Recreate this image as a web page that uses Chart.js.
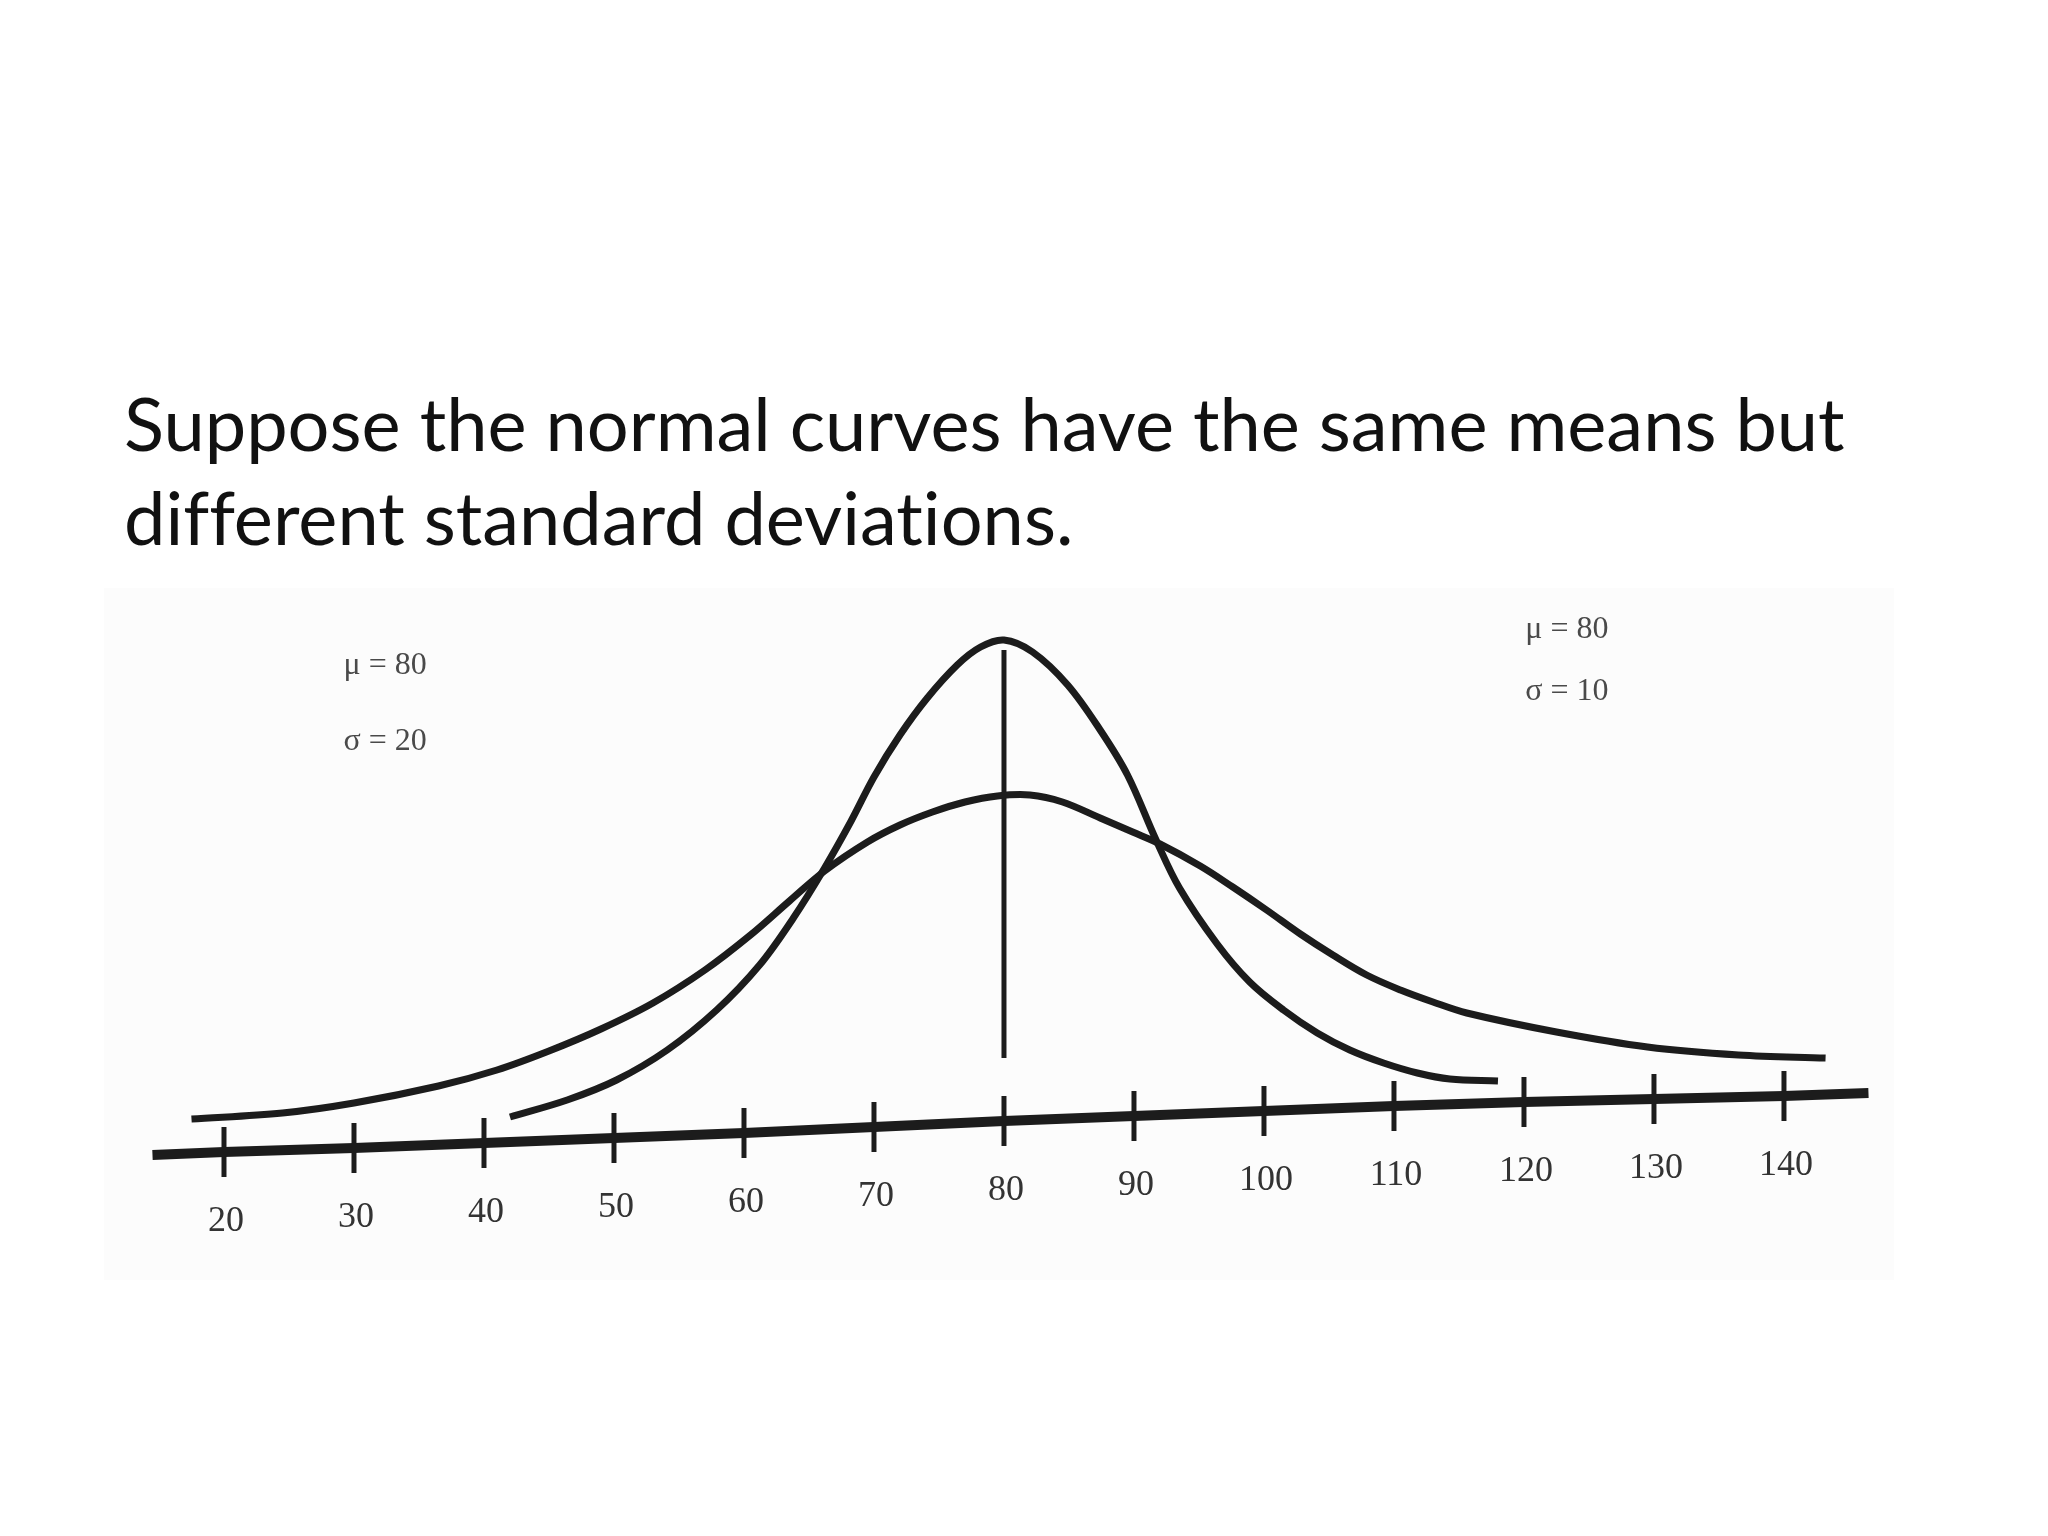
<!DOCTYPE html>
<html>
<head>
<meta charset="utf-8">
<script src="https://cdn.jsdelivr.net/npm/chart.js@4.4.1/dist/chart.umd.min.js"></script>
<style>
  html, body { margin: 0; padding: 0; background: #fff; }
  body { width: 2048px; height: 1536px; position: relative; overflow: hidden; }
  #caption {
    position: absolute; left: 124px; top: 376px;
    font-family: Lato, "Noto Sans", sans-serif; font-size: 74px; line-height: 94px;
    font-variant-ligatures: none;
    color: #111; white-space: nowrap;
  }
  #paper { position: absolute; left: 104px; top: 588px; width: 1790px; height: 692px; background: #fcfcfc; }
  #curveChart { position: absolute; left: 0; top: 560px; }
</style>
</head>
<body>
<div id="caption">Suppose the normal curves have the same means but<br>different standard deviations.</div>
<div id="paper"></div>
<canvas id="curveChart" width="2048" height="720"></canvas>
<script>
// values; x in score units, y = drawn height (arbitrary units)
const wideX = [17.5, 24.5, 30, 36.5, 41, 45, 49, 53, 57, 60.5, 63.5, 66.2, 69.5, 72, 74.5, 77, 79.5,
  82, 84.5, 87.4, 89.9, 92, 95.1, 97.6, 100.2, 102.8, 105.3, 107.9, 110.5, 113, 115.6, 122.5, 129.5, 136.5, 143.2];
const wideY = [1.61, 1.67, 1.77, 1.94, 2.10, 2.29, 2.51, 2.77, 3.10, 3.45, 3.79, 4.09, 4.38, 4.55, 4.68, 4.78, 4.84,
  4.85, 4.78, 4.62, 4.48, 4.36, 4.14, 3.93, 3.70, 3.46, 3.25, 3.05, 2.90, 2.78, 2.67, 2.48, 2.33, 2.25, 2.22];

const narrowX = [42, 46.4, 50.2, 54.1, 57.9, 61.2, 63.8, 66.2, 68.2, 70, 72, 74.1, 76.4, 78.2, 80,
  82.2, 84.9, 87.4, 89.5, 91.7, 93.5, 96.4, 98.9, 101.5, 104.1, 106.6, 109.2, 111.8, 114.3, 118];
const narrowY = [1.63, 1.80, 2.00, 2.30, 2.70, 3.15, 3.62, 4.12, 4.58, 5.03, 5.45, 5.82, 6.15, 6.33, 6.40,
  6.28, 5.95, 5.50, 5.05, 4.40, 3.92, 3.36, 2.98, 2.70, 2.47, 2.30, 2.17, 2.07, 2.01, 1.99];

const meanX = 80;
const meanLineY = [2.22, 6.30];

const tickValues = [20, 30, 40, 50, 60, 70, 80, 90, 100, 110, 120, 130, 140];
const tickLabels = ['20', '30', '40', '50', '60', '70', '80', '90', '100', '110', '120', '130', '140'];
// the printed baseline is tilted: its height under each tick
const baseY = [1.28, 1.32, 1.37, 1.42, 1.47, 1.53, 1.59, 1.64, 1.69, 1.74, 1.78, 1.81, 1.84];
const baseEndX = [14.5, 146.5];
const baseEndY = [1.25, 1.87];

const noteText = ['\u03BC = 80', '\u03C3 = 20', '\u03BC = 80', '\u03C3 = 10'];
const noteX = [32.4, 32.4, 123.3, 123.3];
const noteY = [6.14, 5.38, 6.50, 5.88];

const ink = '#1c1c1c';
const toPts = (xs, ys) => xs.map((x, i) => ({ x, y: ys[i] }));

const basePts = [{ x: baseEndX[0], y: baseEndY[0] }]
  .concat(toPts(tickValues, baseY))
  .concat([{ x: baseEndX[1], y: baseEndY[1] }]);

const textPlugin = {
  id: 'figureText',
  afterDatasetsDraw(chart) {
    const { ctx, scales: { x, y } } = chart;
    ctx.save();
    ctx.fillStyle = '#333';
    ctx.textAlign = 'center';
    ctx.textBaseline = 'middle';
    ctx.font = '36px "Liberation Serif", serif';
    tickValues.forEach((v, i) => {
      ctx.fillText(tickLabels[i], x.getPixelForValue(v) + 2, y.getPixelForValue(baseY[i]) + 70);
    });
    ctx.fillStyle = '#4a4a4a';
    ctx.font = '32px "Liberation Serif", serif';
    noteText.forEach((t, i) => {
      ctx.fillText(t, x.getPixelForValue(noteX[i]), y.getPixelForValue(noteY[i]));
    });
    ctx.restore();
  }
};

new Chart(document.getElementById('curveChart'), {
  type: 'scatter',
  data: {
    datasets: [
      {
        label: 'baseline',
        data: basePts,
        showLine: true,
        borderColor: ink,
        borderWidth: 10,
        pointRadius: 0,
        tension: 0
      },
      {
        label: 'ticks',
        data: toPts(tickValues, baseY),
        showLine: false,
        pointStyle: 'line',
        rotation: 90,
        pointRadius: 25,
        borderColor: ink,
        borderWidth: 5
      },
      {
        label: 'sigma 20',
        data: toPts(wideX, wideY),
        showLine: true,
        borderColor: ink,
        borderWidth: 7,
        borderCapStyle: 'butt',
        pointRadius: 0,
        tension: 0.35
      },
      {
        label: 'sigma 10',
        data: toPts(narrowX, narrowY),
        showLine: true,
        borderColor: ink,
        borderWidth: 7,
        borderCapStyle: 'butt',
        pointRadius: 0,
        tension: 0.35
      },
      {
        label: 'mean',
        data: meanLineY.map(v => ({ x: meanX, y: v })),
        showLine: true,
        borderColor: ink,
        borderWidth: 5,
        pointRadius: 0
      }
    ]
  },
  options: {
    responsive: false,
    animation: false,
    devicePixelRatio: 1,
    layout: { padding: 0, autoPadding: false },
    scales: {
      x: { type: 'linear', display: false, min: 2.77, max: 160.31 },
      y: { type: 'linear', display: false, min: 0, max: 7.2 }
    },
    plugins: {
      legend: { display: false },
      tooltip: { enabled: false }
    }
  },
  plugins: [textPlugin]
});
</script>
</body>
</html>
